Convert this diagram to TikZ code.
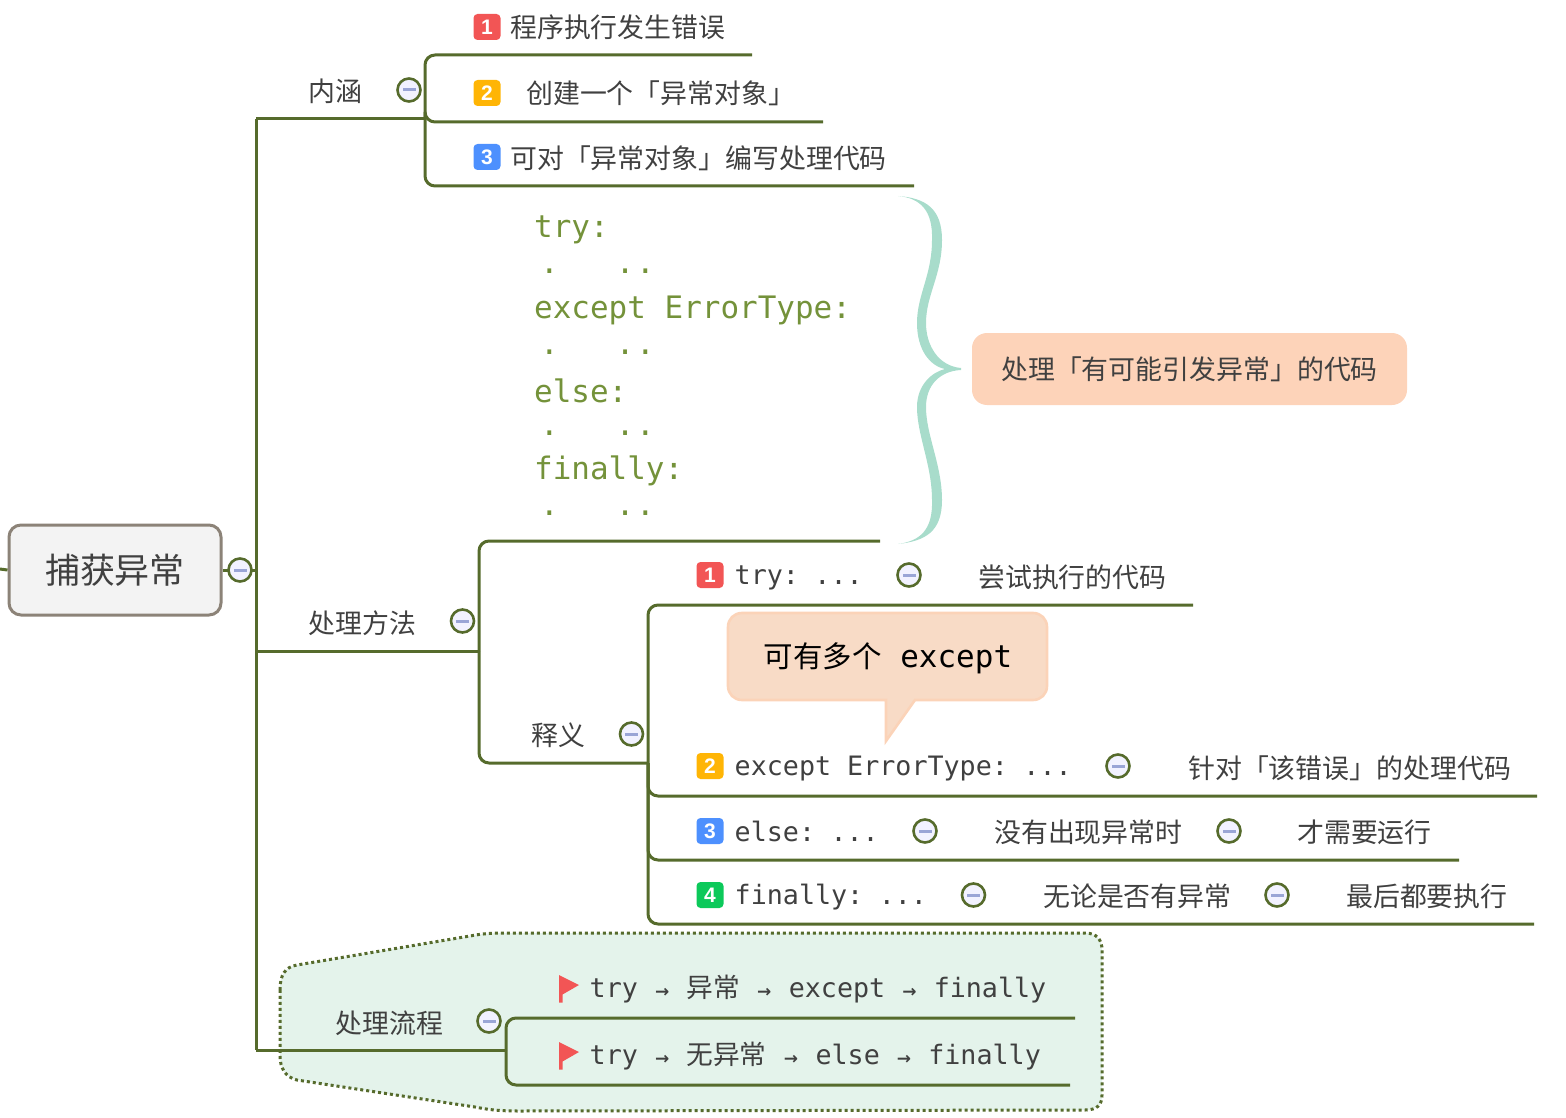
\documentclass[tikz,border=0pt]{standalone}
\usepackage{fontspec}
\setmainfont{Noto Sans CJK SC}
\newfontfamily\monof{DejaVu Sans Mono}
\newfontfamily\arrowf{DejaVu Sans}
\newfontfamily\badgef{Liberation Sans}
\definecolor{lineg}{HTML}{566B2C}
\definecolor{txtc}{HTML}{404040}
\definecolor{codec}{HTML}{74923A}
\definecolor{bred}{HTML}{F25555}
\definecolor{bora}{HTML}{FFB505}
\definecolor{bblu}{HTML}{4D90FE}
\definecolor{bgre}{HTML}{0CC95A}
\definecolor{brace}{HTML}{A8DCCB}
\definecolor{flowbg}{HTML}{E4F3EB}
\definecolor{foldm}{HTML}{9AA5D6}
\definecolor{rootb}{HTML}{8C8378}
\definecolor{rootf}{HTML}{F3F3F3}
\definecolor{nodep}{HTML}{FDD3B9}
\definecolor{callf}{HTML}{F8DBC6}
\definecolor{calld}{HTML}{FBD3B8}
\newcommand{\arrbox}[1]{\makebox[#1pt]{\arrowf\bfseries\fontsize{17}{20}\selectfont →}}
\newcommand{\codedots}{.\hspace{57pt}.\hspace{1.8pt}.}
\tikzset{
  branch/.style={draw=lineg,line width=3pt,rounded corners=10pt},
  trunk/.style={draw=lineg,line width=3pt},
  cjktxt/.style={anchor=base west,inner sep=0pt,text=txtc,font=\fontsize{26.9}{30}\selectfont},
  monotxt/.style={anchor=base west,inner sep=0pt,text=txtc,font=\monof\fontsize{26.7}{30}\selectfont},
  codetxt/.style={anchor=base west,inner sep=0pt,text=codec,font=\monof\fontsize{30.95}{34}\selectfont},
  badge/.style={rounded corners=4pt,fill=#1,minimum width=27pt,minimum height=26pt,inner sep=0pt,text=white,font=\badgef\bfseries\fontsize{21}{22}\selectfont},
  fold/.style={circle,draw=lineg,line width=2.6pt,fill=white!95!blue,minimum size=23pt,inner sep=0pt,path picture={\fill[color=foldm] ([xshift=-6.5pt,yshift=-1.5pt]path picture bounding box.center) rectangle ([xshift=6.5pt,yshift=1.5pt]path picture bounding box.center);}},
  flagmark/.style={fill=bred,draw=none},
}
\begin{document}
\begin{tikzpicture}[x=1pt,y=-1pt]
\useasboundingbox (0,0) rectangle (1566,1118);
% float background
\fill[flowbg] (280,990) .. controls (280,975) and (285,967) .. (297,965) -- (470,936) .. controls (480,934) and (490,933) .. (505,933) -- (1085,933) .. controls (1097,933) and (1102,940) .. (1102,950) -- (1102,1095) .. controls (1102,1105) and (1097,1110) .. (1085,1110) -- (520,1111) .. controls (500,1111) and (490,1110) .. (475,1107) -- (297,1080) .. controls (285,1077) and (280,1068) .. (280,1055) -- cycle;
\draw[lineg,line width=3pt,dash pattern=on 3pt off 3pt] (280,990) .. controls (280,975) and (285,967) .. (297,965) -- (470,936) .. controls (480,934) and (490,933) .. (505,933) -- (1085,933) .. controls (1097,933) and (1102,940) .. (1102,950) -- (1102,1095) .. controls (1102,1105) and (1097,1110) .. (1085,1110) -- (520,1111) .. controls (500,1111) and (490,1110) .. (475,1107) -- (297,1080) .. controls (285,1077) and (280,1068) .. (280,1055) -- cycle;
% coordinates
\coordinate (stub) at (0,569);
\coordinate (sp0) at (256,570);
\coordinate (sp1) at (256,119);
\coordinate (sp2) at (256,651);
\coordinate (sp3) at (256,1050);
\coordinate (j1) at (425,119);
\coordinate (j2) at (479,651);
\coordinate (j3) at (506,1050);
\coordinate (j4) at (648,763);
\coordinate (e11) at (752,55);
\coordinate (e12) at (823,122);
\coordinate (e13) at (914,186);
\coordinate (e21) at (880,541);
\coordinate (e31) at (1193,605);
\coordinate (e32) at (1537,796);
\coordinate (e33) at (1459,860);
\coordinate (e34) at (1534,924);
\coordinate (e41) at (1075,1018);
\coordinate (e42) at (1070,1085);
% root
\node[draw=rootb,line width=3pt,fill=rootf,rounded corners=12pt,minimum width=212pt,minimum height=90pt,inner sep=0pt,text=txtc,font=\fontsize{35}{36}\selectfont] (root) at (115,570) {\raisebox{-2pt}{捕获异常}};
% trunks
\draw[trunk] (stub) -- (root.west);
\draw[trunk] (sp1) -- (sp3);
\draw[trunk] (root.east) -- (sp0);
\draw[trunk] (sp1) -- (j1);
\draw[trunk] (sp2) -- (j2);
\draw[trunk] (sp3) -- (j3);
% branches
\draw[branch] (e11) -| (j1);
\draw[branch] (j1) |- (e12);
\draw[branch] (j1) |- (e13);
\draw[branch] (e21) -| (j2);
\draw[branch] (j2) |- (j4);
\draw[branch] (e31) -| (j4);
\draw[branch] (j4) |- (e32);
\draw[branch] (j4) |- (e33);
\draw[branch] (j4) |- (e34);
\draw[branch] (e41) -| (j3);
\draw[branch] (j3) |- (e42);
% root fold
\node[fold] (f0) at (240,570) {};
% level 1 labels
\node[cjktxt] (t1) at (308.5,102) {内涵};
\node[fold] (f1) at (409,90) {};
\node[cjktxt] (t2) at (308.5,633) {处理方法};
\node[fold] (f2) at (462.5,621) {};
\node[cjktxt] (t3) at (335.5,1033) {处理流程};
\node[fold] (f3) at (489,1021) {};
\node[cjktxt] (t4) at (531.5,745) {释义};
\node[fold] (f4) at (631.5,734) {};
% group 1
\node[badge=bred] (b11) at (487,27) {1};
\node[cjktxt] (a1) at (510,38) {程序执行发生错误};
\node[badge=bora] (b12) at (487,93) {2};
\node[cjktxt] (a2) at (526,104) {创建一个「异常对象」};
\node[badge=bblu] (b13) at (487,157) {3};
\node[cjktxt] (a3) at (510,169) {可对「异常对象」编写处理代码};
% code
\node[codetxt] (c1) at (534,237) {try:};
\node[codetxt] (c2) at (540,273) {\codedots};
\node[codetxt] (c3) at (534,318) {except ErrorType:};
\node[codetxt] (c4) at (540,354) {\codedots};
\node[codetxt] (c5) at (534,402) {else:};
\node[codetxt] (c6) at (540,435) {\codedots};
\node[codetxt] (c7) at (534,479) {finally:};
\node[codetxt] (c8) at (540,515) {\codedots};
% brace
\fill[brace] (898,196) .. controls (925,198) and (942,208) .. (942,240) .. controls (942,275) and (926,295) .. (926,323) .. controls (926,345) and (938,366) .. (961,368) -- (961,370) .. controls (940,371) and (926,385) .. (926,407) .. controls (926,435) and (942,465) .. (942,500) .. controls (942,532) and (925,541) .. (898,544) .. controls (920,541) and (933,530) .. (932,500) .. controls (932,465) and (917,435) .. (917,407) .. controls (917,385) and (932,372) .. (945,369) .. controls (930,366) and (917,350) .. (917,323) .. controls (917,295) and (932,275) .. (932,240) .. controls (933,210) and (920,198) .. (898,196) -- cycle;
\node[fill=nodep,rounded corners=15pt,minimum width=435pt,minimum height=72pt,inner sep=0pt,text=txtc,font=\fontsize{26.9}{30}\selectfont] (n1) at (1189.5,369) {\raisebox{-1pt}{处理「有可能引发异常」的代码}};
% details
\node[badge=bred] (d1) at (710,575) {1};
\node[monotxt] (dt1) at (734.5,584) {try:\hspace{15.5pt}...};
\node[fold] (df1) at (909,575) {};
\node[cjktxt] (dn1) at (978,587) {尝试执行的代码};
\node[badge=bora] (d2) at (710,766) {2};
\node[monotxt] (dt2) at (734.5,775) {except ErrorType:\hspace{15.5pt}...};
\node[fold] (df2) at (1118,766) {};
\node[cjktxt] (dn2) at (1188,778) {针对「该错误」的处理代码};
\node[badge=bblu] (d3) at (710,831) {3};
\node[monotxt] (dt3) at (734.5,841) {else:\hspace{15.5pt}...};
\node[fold] (df3) at (925,831) {};
\node[cjktxt] (dn3) at (994,842) {没有出现异常时};
\node[fold] (df3b) at (1229,831) {};
\node[cjktxt] (dn3b) at (1297,842) {才需要运行};
\node[badge=bgre] (d4) at (710,895) {4};
\node[monotxt] (dt4) at (734.5,904) {finally:\hspace{15.5pt}...};
\node[fold] (df4) at (973.5,895) {};
\node[cjktxt] (dn4) at (1043,906) {无论是否有异常};
\node[fold] (df4b) at (1277,895) {};
\node[cjktxt] (dn4b) at (1346,906) {最后都要执行};
% callout
\draw[fill=callf,draw=calld,line width=2.6pt] (742,613) -- (1033,613) .. controls (1041,613) and (1047,619) .. (1047,627) -- (1047,686) .. controls (1047,694) and (1041,700) .. (1033,700) -- (915,700) -- (886,741) -- (886,700) -- (742,700) .. controls (734,700) and (728,694) .. (728,686) -- (728,627) .. controls (728,619) and (734,613) .. (742,613) -- cycle;
\node[anchor=base west,inner sep=0pt,text=black,font=\monof\fontsize{30.95}{34}\selectfont] (cal) at (763.5,667) {{\rmfamily\fontsize{29.5}{34}\selectfont 可有多个}\ except};
% flow
\fill[flagmark] (559,975) -- (579,985) -- (562.5,994.5) -- (562.5,1002.5) -- (559,1002.5) -- cycle;
\fill[flagmark] (559,1042) -- (579,1052) -- (562.5,1061.5) -- (562.5,1069.5) -- (559,1069.5) -- cycle;
\node[monotxt] (r1) at (589.5,997) {try\arrbox{48.5}{\rmfamily 异常}\arrbox{49}except\arrbox{48.5}finally};
\node[monotxt] (r2) at (589.5,1064) {try\arrbox{48.5}{\rmfamily 无异常}\arrbox{49}else\arrbox{48.5}finally};
\end{tikzpicture}
\end{document}
